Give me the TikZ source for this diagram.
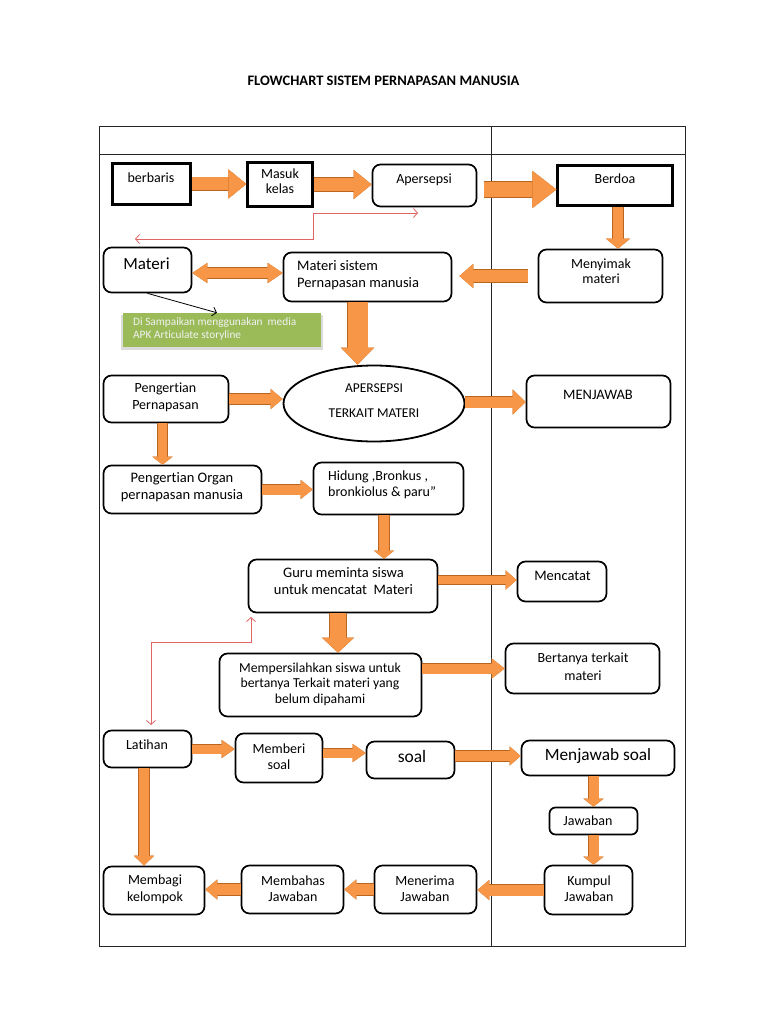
\documentclass[tikz,border=0pt]{standalone}
\usepackage{fontspec}
\setmainfont{Carlito}[Ligatures=NoCommon]
\usetikzlibrary{arrows.meta,shapes.geometric,shadows}
\definecolor{orfill}{HTML}{F79646}
\definecolor{oredge}{HTML}{B8651F}
\definecolor{redline}{HTML}{E06666}
\definecolor{greenbox}{HTML}{9BBB59}
\tikzset{
  barrow/.style n args={3}{draw=orfill, line width=#1,
    -{Triangle[width=#2, length=#3, line width=0pt]},
    preaction={draw=oredge, line width=#1+1.4pt,
      -{Triangle[width=#2, length=#3, line width=1.4pt]}}},
  dbarrow/.style n args={3}{draw=orfill, line width=#1,
    {Triangle[width=#2, length=#3, line width=0pt]}-{Triangle[width=#2, length=#3, line width=0pt]},
    preaction={draw=oredge, line width=#1+1.4pt,
      {Triangle[width=#2, length=#3, line width=1.4pt]}-{Triangle[width=#2, length=#3, line width=1.4pt]}}},
  rbox/.style={draw=black, line width=1.7pt, rounded corners=8pt, inner sep=0pt, fill=white},
  sbox/.style={draw=black, line width=2.2pt, inner sep=0pt, fill=white},
  txt/.style={inner sep=0pt, align=center, font=\fontsize{14}{16.5}\selectfont},
  redc/.style={draw=redline, line width=0.8pt,
    {Straight Barb[length=4pt, width=9pt]}-{Straight Barb[length=4pt, width=9pt]}},
  thinarrow/.style={draw=black, line width=0.8pt, -{Straight Barb[length=4pt, width=9pt]}},
  frame/.style={draw=black!85, line width=0.8pt}
}
\begin{document}
\begin{tikzpicture}[x=1pt, y=-1pt]
\useasboundingbox[fill=white] (0,0) rectangle (768,1024);

% title
\node[inner sep=0pt, font=\fontsize{14.5}{17}\selectfont\bfseries] (title) at (383.5,81) {FLOWCHART SISTEM PERNAPASAN MANUSIA};

% frame
\draw[frame] (99,126) rectangle (685,946);
\draw[frame] (99,154) -- (685,154);
\draw[frame] (491,126) -- (491,946);

% boxes
\node[sbox, minimum width=78pt, minimum height=41pt] (bb) at (151.5,184) {};
\node[sbox, minimum width=65pt, minimum height=44pt] (mk) at (280,184.5) {};
\node[rbox, minimum width=104pt, minimum height=42pt] (ap) at (424.5,185.5) {};
\node[sbox, minimum width=115pt, minimum height=40pt] (bd) at (615,185.5) {};
\node[rbox, minimum width=124pt, minimum height=53pt] (my) at (600.5,276) {};
\node[rbox, minimum width=168pt, minimum height=49pt] (ms) at (367.5,277) {};
\node[rbox, minimum width=88pt, minimum height=45pt] (ma) at (147.5,270) {};
\node[fill=greenbox, inner sep=0pt, minimum width=198pt, minimum height=34pt,
  general shadow={fill=black!14, shadow scale=1.025, shadow yshift=-2.5pt}] (gr) at (222,330) {};
\node[draw=black, line width=1.8pt, ellipse, fill=white, inner sep=0pt,
  minimum width=181pt, minimum height=76pt] (el) at (374,403.5) {};
\node[rbox, minimum width=144pt, minimum height=52pt] (mj) at (598.5,401.5) {};
\node[rbox, minimum width=125pt, minimum height=47pt] (pp) at (166,399) {};
\node[rbox, minimum width=158pt, minimum height=48pt] (po) at (182.5,489.5) {};
\node[rbox, minimum width=150pt, minimum height=52pt] (hd) at (388.5,488.5) {};
\node[rbox, minimum width=189pt, minimum height=53pt] (gu) at (343,586) {};
\node[rbox, minimum width=89pt, minimum height=40pt] (mc) at (562,581.5) {};
\node[rbox, minimum width=202pt, minimum height=63pt] (mp) at (320.5,685) {};
\node[rbox, minimum width=154pt, minimum height=50pt] (bt) at (582.5,668.5) {};
\node[rbox, minimum width=88pt, minimum height=37pt] (lt) at (147.5,749) {};
\node[rbox, minimum width=87pt, minimum height=49pt] (mb) at (279,758) {};
\node[rbox, minimum width=88pt, minimum height=37pt] (so) at (410.5,760) {};
\node[rbox, minimum width=153pt, minimum height=35pt] (js) at (598,758) {};
\node[rbox, minimum width=88pt, minimum height=27pt, rounded corners=6pt] (jw) at (593.5,821) {};
\node[rbox, minimum width=88pt, minimum height=49pt] (kp) at (588.5,890) {};
\node[rbox, minimum width=102pt, minimum height=48pt] (mn) at (425.5,889.5) {};
\node[rbox, minimum width=102pt, minimum height=48pt] (mh) at (292.5,889.5) {};
\node[rbox, minimum width=101pt, minimum height=48pt] (mg) at (154,890.5) {};

% texts
\node[txt] (bb-t) at (151,178) {berbaris};
\node[txt, font=\fontsize{14}{15}\selectfont] (mk-t) at (280,181.5) {Masuk\\kelas};
\node[txt] (ap-t) at (424,180) {Apersepsi};
\node[txt] (bd-t) at (615,179) {Berdoa};
\node[txt, font=\fontsize{14}{15}\selectfont] (my-t) at (601,271.5) {Menyimak\\materi};
\node[txt, align=left, anchor=west, font=\fontsize{14.5}{17}\selectfont] (ms-t) at (297,275.5) {Materi sistem\\Pernapasan manusia};
\node[txt, font=\fontsize{17}{20}\selectfont] (ma-t) at (146.5,264) {Materi};
\node[txt, align=left, anchor=west, text=white!95!black, font=\fontsize{11.3}{12.5}\selectfont] (gr-t) at (133,329) {Di Sampaikan menggunakan\ \ media\\APK Articulate storyline};
\node[txt, font=\fontsize{13.5}{25}\selectfont] (el-t) at (374,400.5) {APERSEPSI\\TERKAIT MATERI};
\node[txt, font=\fontsize{14.5}{17}\selectfont] (mj-t) at (598,395) {MENJAWAB};
\node[txt] (pp-t) at (165.5,397.5) {Pengertian\\Pernapasan};
\node[txt, font=\fontsize{14.5}{17}\selectfont] (po-t) at (182,487.5) {Pengertian Organ\\pernapasan manusia};
\node[txt, align=left, anchor=west] (hd-t) at (328,485) {Hidung ,Bronkus ,\\bronkiolus \& paru”};
\node[txt, font=\fontsize{14.5}{17}\selectfont] (gu-t) at (343.5,581.5) {Guru meminta siswa\\untuk mencatat\ \ Materi};
\node[txt, font=\fontsize{14.5}{17}\selectfont] (mc-t) at (562.5,576) {Mencatat};
\node[txt, font=\fontsize{13.7}{15.5}\selectfont] (mp-t) at (320,684) {Mempersilahkan siswa untuk\\bertanya Terkait materi yang\\belum dipahami};
\node[txt, font=\fontsize{14}{18}\selectfont] (bt-t) at (583,667) {Bertanya terkait\\materi};
\node[txt] (lt-t) at (147,745) {Latihan};
\node[txt] (mb-t) at (279,756.5) {Memberi\\soal};
\node[txt, font=\fontsize{17.5}{20}\selectfont] (so-t) at (412,756) {soal};
\node[txt, font=\fontsize{17.3}{20}\selectfont] (js-t) at (598,756) {Menjawab soal};
\node[txt] (jw-t) at (588,821) {Jawaban};
\node[txt] (kp-t) at (589,888.5) {Kumpul\\Jawaban};
\node[txt] (mn-t) at (425,888.5) {Menerima\\Jawaban};
\node[txt] (mh-t) at (293,888.5) {Membahas\\Jawaban};
\node[txt] (mg-t) at (155,889.5) {Membagi\\kelompok};

% helper coordinates
\coordinate (a3s) at ([shift={(7pt,-4pt)}]ap.east);
\coordinate (a4s) at ([xshift=3pt]bd.south);
\coordinate (a5s) at ([xshift=-10pt]my.west);
\coordinate (a5e) at ([xshift=7pt]ms.east);
\coordinate (a6s) at ([yshift=-3pt]ma.east);
\coordinate (a7s) at ([xshift=-10pt]ms.south);
\coordinate (a9s) at ([yshift=1.5pt]el.east);
\coordinate (a10s) at ([xshift=-3.5pt]pp.south);
\coordinate (a12s) at ([xshift=-4.5pt]hd.south);
\coordinate (a13s) at ([yshift=6pt]gu.east);
\coordinate (a14s) at ([xshift=-5pt]gu.south);
\coordinate (a17s) at ([yshift=5pt]mb.east);
\coordinate (a18s) at ([yshift=4pt]so.east);
\coordinate (a21s) at ([xshift=-3.5pt]lt.south);

% orange block arrows
\draw[barrow={13pt}{29pt}{18pt}] (bb.east) -- (bb.east -| mk.west);
\draw[barrow={13pt}{29pt}{18pt}] (mk.east) -- (mk.east -| ap.west);
\draw[barrow={15pt}{37pt}{24pt}] (a3s) -- (a3s -| bd.west);
\draw[barrow={10pt}{24pt}{10pt}] (a4s) -- (a4s |- my.north);
\draw[barrow={12pt}{24pt}{14pt}] (a5s) -- (a5s -| a5e);
\draw[dbarrow={10pt}{20pt}{15pt}] (a6s) -- (a6s -| ms.west);
\draw[barrow={20pt}{33pt}{17pt}] (a7s) -- (a7s |- el.north);
\draw[barrow={10pt}{20pt}{12pt}] (pp.east) -- (pp.east -| el.west);
\draw[barrow={11pt}{25pt}{13pt}] (a9s) -- (a9s -| mj.west);
\draw[barrow={9pt}{20pt}{8pt}] (a10s) -- (a10s |- po.north);
\draw[barrow={10pt}{19pt}{12pt}] (po.east) -- (po.east -| hd.west);
\draw[barrow={10pt}{20pt}{8pt}] (a12s) -- (a12s |- gu.north);
\draw[barrow={8pt}{19pt}{11pt}] (a13s) -- (a13s -| mc.west);
\draw[barrow={16pt}{32pt}{15pt}] (a14s) -- (a14s |- mp.north);
\draw[barrow={10pt}{20pt}{13pt}] (mp.east |- bt.west) -- (bt.west);
\draw[barrow={9pt}{18pt}{13pt}] (lt.east) -- (lt.east -| mb.west);
\draw[barrow={9pt}{18pt}{13pt}] (a17s) -- (a17s -| so.west);
\draw[barrow={10pt}{19pt}{11pt}] (a18s) -- (a18s -| js.west);
\draw[barrow={10pt}{20pt}{8pt}] (js.south -| jw.north) -- (jw.north);
\draw[barrow={10pt}{20pt}{8pt}] (jw.south) -- (jw.south |- kp.north);
\draw[barrow={10pt}{20pt}{10pt}] (a21s) -- (a21s |- mg.north);
\draw[barrow={11pt}{20pt}{12pt}] (kp.west) -- (kp.west -| mn.east);
\draw[barrow={11pt}{20pt}{12pt}] (mn.west) -- (mn.west -| mh.east);
\draw[barrow={11pt}{20pt}{12pt}] (mh.west) -- (mh.west -| mg.east);

% red thin connectors
\coordinate (r1a) at (418,213);
\coordinate (r1b) at (313,213);
\coordinate (r1c) at (313,239);
\coordinate (r1d) at (135,239);
\draw[redc] (r1a) -- (r1b) -- (r1c) -- (r1d);
\coordinate (r2a) at (251,617);
\coordinate (r2b) at (251,642);
\coordinate (r2c) at (151,642);
\coordinate (r2d) at (151,725);
\draw[redc] (r2a) -- (r2b) -- (r2c) -- (r2d);

% black thin arrow
\draw[thinarrow] (ma.south) -- ([xshift=-5pt]gr.north);
\end{tikzpicture}
\end{document}
